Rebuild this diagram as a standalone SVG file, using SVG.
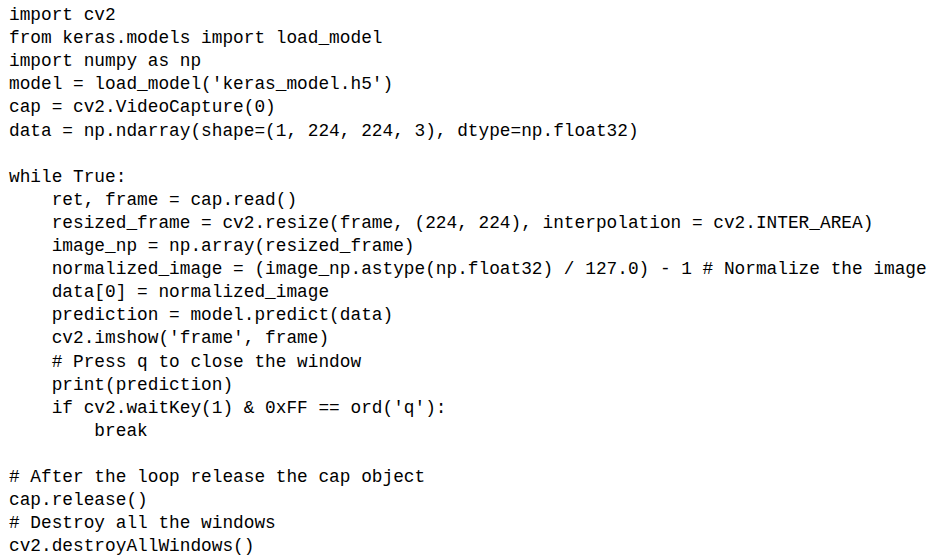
<svg xmlns="http://www.w3.org/2000/svg" width="946" height="555" viewBox="0 0 946 555">
<style>
text{font-family:"Liberation Mono","DejaVu Sans Mono",monospace;font-size:17.8px;fill:#000;white-space:pre}
</style>
<rect width="946" height="555" fill="#fff"/>
<g id="code" xml:space="preserve">
<text x="9" y="20">import cv2</text>
<text x="9" y="43.1">from keras.models import load_model</text>
<text x="9" y="66.2">import numpy as np</text>
<text x="9" y="89.3">model = load_model('keras_model.h5')</text>
<text x="9" y="112.4">cap = cv2.VideoCapture(0)</text>
<text x="9" y="135.5">data = np.ndarray(shape=(1, 224, 224, 3), dtype=np.float32)</text>
<text x="9" y="181.7">while True:</text>
<text x="9" y="204.8">    ret, frame = cap.read()</text>
<text x="9" y="227.9">    resized_frame = cv2.resize(frame, (224, 224), interpolation = cv2.INTER_AREA)</text>
<text x="9" y="251">    image_np = np.array(resized_frame)</text>
<text x="9" y="274.1">    normalized_image = (image_np.astype(np.float32) / 127.0) - 1 # Normalize the image</text>
<text x="9" y="297.2">    data[0] = normalized_image</text>
<text x="9" y="320.3">    prediction = model.predict(data)</text>
<text x="9" y="343.4">    cv2.imshow('frame', frame)</text>
<text x="9" y="366.5">    # Press q to close the window</text>
<text x="9" y="389.6">    print(prediction)</text>
<text x="9" y="412.7">    if cv2.waitKey(1) &amp; 0xFF == ord('q'):</text>
<text x="9" y="435.8">        break</text>
<text x="9" y="482"># After the loop release the cap object</text>
<text x="9" y="505.1">cap.release()</text>
<text x="9" y="528.2"># Destroy all the windows</text>
<text x="9" y="550.5">cv2.destroyAllWindows()</text>
</g>
</svg>
